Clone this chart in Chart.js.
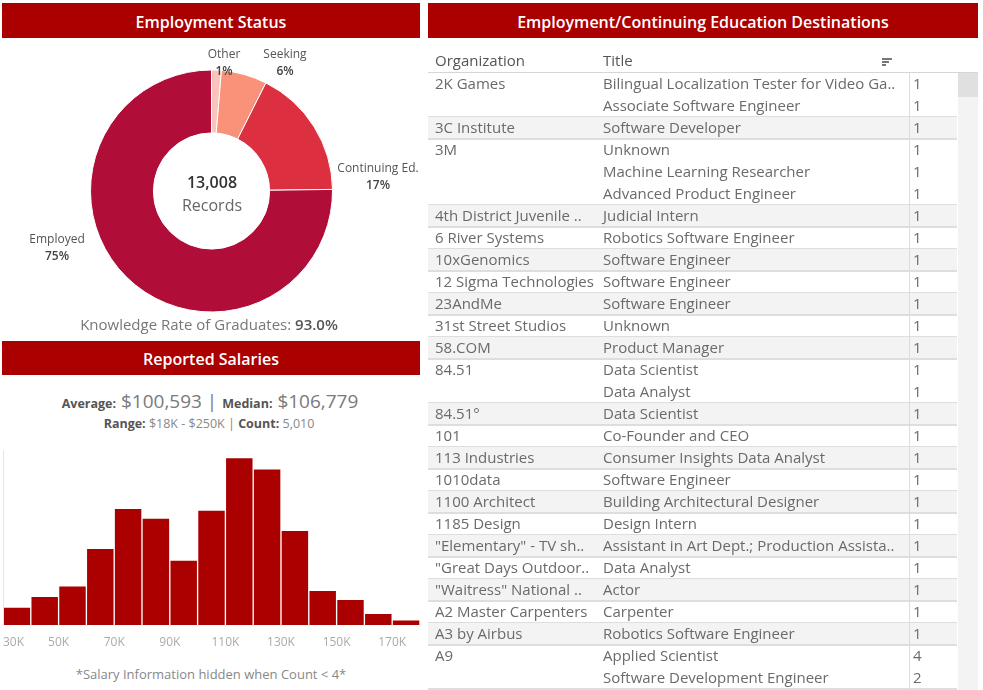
<!DOCTYPE html>
<html lang="en">
<head>
<meta charset="UTF-8">
<title>Graduate Outcomes</title>
<script src="https://cdn.jsdelivr.net/npm/chart.js"></script>
<style>
  body { margin: 0; width: 983px; height: 690px; overflow: hidden; background: #fff; font-family: "Open Sans", sans-serif; position: relative; }
  .hdr { position: absolute; background: #aa0000; color: #fff; font-size: 16px; font-weight: 600; text-align: center; line-height: 38px; height: 35px; overflow: hidden; }
  .abs { position: absolute; white-space: nowrap; }
  .lbl { position: absolute; font-size: 12px; color: #555; text-align: center; line-height: 17px; transform: translateX(-50%); white-space: nowrap; }
  .lbl b { font-weight: 600; color: #444; }
  canvas { position: absolute; }
  .cell { position: absolute; font-size: 15px; color: #6a6a6a; line-height: 20px; white-space: nowrap; }
</style>
</head>
<body>
<div class="hdr" style="left:2px; top:3px; width:418px;">Employment Status</div>
<div class="hdr" style="left:428px; top:3px; width:550px;">Employment/Continuing Education Destinations</div>
<div class="hdr" style="left:2px; top:341px; width:418px; height:34px; line-height:36px;">Reported Salaries</div>

<canvas id="statusChart" width="420" height="300" style="left:0; top:38px;"></canvas>
<div class="lbl" style="left:224px; top:45px;">Other<br><b>1%</b></div>
<div class="lbl" style="left:285px; top:45px;">Seeking<br><b>6%</b></div>
<div class="lbl" style="left:378px; top:159px;">Continuing Ed.<br><b>17%</b></div>
<div class="lbl" style="left:57px; top:230px;">Employed<br><b>75%</b></div>
<div class="abs" style="left:212px; top:171px; transform:translateX(-50%); font-size:16px; font-weight:600; color:#333;">13,008</div>
<div class="abs" style="left:212px; top:194px; transform:translateX(-50%); font-size:16px; color:#666;">Records</div>
<div class="abs" style="left:209px; top:314px; transform:translateX(-50%); font-size:15px; color:#777;">Knowledge Rate of Graduates: <span style="font-weight:600; color:#555;">93.0%</span></div>

<div class="abs" style="left:210px; top:388px; transform:translateX(-50%); color:#7a7a7a; font-size:19px;"><span style="font-size:12.5px; font-weight:700; color:#555;">Average:</span> $100,593 | <span style="font-size:12.5px; font-weight:700; color:#555;">Median:</span> $106,779</div>
<div class="abs" style="left:209px; top:415px; transform:translateX(-50%); color:#888; font-size:12.5px;"><b style="color:#555;">Range:</b> $18K - $250K | <b style="color:#555;">Count:</b> 5,010</div>
<canvas id="salaryChart" width="420" height="220" style="left:0; top:440px;"></canvas>
<div class="abs" style="left:211px; top:665px; transform:translateX(-50%); color:#888; font-size:13px;">*Salary Information hidden when Count &lt; 4*</div>

<div id="table"></div>

<script>
// employment status
const statusLabels = ['Other', 'Seeking', 'Continuing Ed.', 'Employed'];
const statusCounts = [170, 795, 2260, 9783];
const statusColors = ['#fbc3bd', '#f99279', '#dc2f3f', '#b00d38'];

// salary histogram (bin start, count)
const salaryBins = [30000, 40000, 50000, 60000, 70000, 80000, 90000, 100000, 110000, 120000, 130000, 140000, 150000, 160000, 170000];
const salaryCounts = [82, 132, 180, 353, 537, 492, 299, 529, 770, 718, 436, 160, 118, 54, 24];
const salaryTickValues = [30000, 50000, 70000, 90000, 110000, 130000, 150000, 170000];
const salaryTickLabels = ['30K', '50K', '70K', '90K', '110K', '130K', '150K', '170K'];

// destinations table
const orgs = ['2K Games', '3C Institute', '3M', '4th District Juvenile ..', '6 River Systems', '10xGenomics',
  '12 Sigma Technologies', '23AndMe', '31st Street Studios', '58.COM', '84.51', '84.51\u00b0', '101',
  '113 Industries', '1010data', '1100 Architect', '1185 Design', '"Elementary" - TV sh..',
  '"Great Days Outdoor..', '"Waitress" National ..', 'A2 Master Carpenters', 'A3 by Airbus', 'A9'];
const titles = [
  ['Bilingual Localization Tester for Video Ga..', 'Associate Software Engineer'],
  ['Software Developer'],
  ['Unknown', 'Machine Learning Researcher', 'Advanced Product Engineer'],
  ['Judicial Intern'],
  ['Robotics Software Engineer'],
  ['Software Engineer'],
  ['Software Engineer'],
  ['Software Engineer'],
  ['Unknown'],
  ['Product Manager'],
  ['Data Scientist', 'Data Analyst'],
  ['Data Scientist'],
  ['Co-Founder and CEO'],
  ['Consumer Insights Data Analyst'],
  ['Software Engineer'],
  ['Building Architectural Designer'],
  ['Design Intern'],
  ['Assistant in Art Dept.; Production Assista..'],
  ['Data Analyst'],
  ['Actor'],
  ['Carpenter'],
  ['Robotics Software Engineer'],
  ['Applied Scientist', 'Software Development Engineer']
];
const titleCounts = [[1, 1], [1], [1, 1, 1], [1], [1], [1], [1], [1], [1], [1], [1, 1], [1], [1], [1], [1], [1], [1], [1], [1], [1], [1], [1], [4, 2]];

new Chart(document.getElementById('statusChart'), {
  type: 'doughnut',
  data: {
    labels: statusLabels,
    datasets: [{ data: statusCounts, backgroundColor: statusColors, borderColor: '#fff', borderWidth: 1 }]
  },
  options: {
    responsive: false,
    animation: false,
    cutout: '48%',
    layout: { padding: { top: 31, bottom: 25, left: 90, right: 87 } },
    plugins: { legend: { display: false }, tooltip: { enabled: false } }
  }
});

const xLabels = {
  id: 'xLabels',
  afterDraw(chart) {
    const ctx = chart.ctx, x = chart.scales.x, a = chart.chartArea;
    ctx.save();
    ctx.strokeStyle = '#e6e6e6';
    ctx.lineWidth = 1;
    ctx.beginPath();
    ctx.moveTo(a.left + 0.5, a.top);
    ctx.lineTo(a.left + 0.5, a.bottom);
    ctx.stroke();
    ctx.font = '12px "Open Sans"';
    ctx.fillStyle = '#aaa';
    ctx.textBaseline = 'middle';
    salaryTickValues.forEach((v, i) => {
      const w = ctx.measureText(salaryTickLabels[i]).width;
      let left = x.getPixelForValue(v) - w / 2;
      if (left < a.left) left = a.left;
      ctx.fillText(salaryTickLabels[i], left, a.bottom + 18);
    });
    ctx.restore();
  }
};

new Chart(document.getElementById('salaryChart'), {
  type: 'bar',
  data: {
    datasets: [{
      data: salaryBins.map((b, i) => ({ x: b + 5000, y: salaryCounts[i] })),
      backgroundColor: '#aa0000',
      borderColor: 'rgba(255,255,255,0.45)',
      borderWidth: 1,
      borderSkipped: 'bottom',
      barPercentage: 1,
      categoryPercentage: 1
    }]
  },
  options: {
    responsive: false,
    animation: false,
    layout: { padding: { top: 10, bottom: 35, left: 3, right: 0 } },
    scales: {
      x: { type: 'linear', min: 30000, max: 180000, offset: false, display: false },
      y: { min: 0, max: 805, display: false }
    },
    plugins: { legend: { display: false }, tooltip: { enabled: false } }
  },
  plugins: [xLabels]
});

// table
const tbl = document.getElementById('table');
function add(style, text, cls) {
  const d = document.createElement('div');
  d.className = cls || 'abs';
  d.style.cssText = style;
  if (text !== undefined) d.textContent = text;
  tbl.appendChild(d);
}
add('left:435px; top:50px; font-size:15px; color:#555;', 'Organization');
add('left:603px; top:50px; font-size:15px; color:#555;', 'Title');
add('left:882px; top:58px; width:10px; height:2px; background:#777;');
add('left:882px; top:61px; width:7px; height:2px; background:#777;');
add('left:882px; top:64px; width:4px; height:2px; background:#777;');
add('left:428px; top:72px; width:550px; height:1px; background:#d6d6d6;');
add('left:958px; top:73px; width:20px; height:617px; background:#f3f3f3;');
add('left:958px; top:73px; width:20px; height:24px; background:#e0e0e0;');
let row = 0;
orgs.forEach((org, g) => {
  const n = titles[g].length;
  const top = 73 + row * 22;
  if (g % 2 === 1) add('left:428px; top:' + top + 'px; width:529px; height:' + (n * 22) + 'px; background:#f3f3f3;');
  add('left:435px; top:' + top + 'px;', org, 'cell');
  titles[g].forEach((t, k) => {
    add('left:603px; top:' + (top + k * 22) + 'px;', t, 'cell');
    add('left:913px; top:' + (top + k * 22) + 'px;', String(titleCounts[g][k]), 'cell');
  });
  row += n;
  add('left:428px; top:' + (73 + row * 22 - 1) + 'px; width:529px; height:2px; background:#dedede;');
});
add('left:909px; top:73px; width:1px; height:617px; background:#dcdcdc;');
</script>
</body>
</html>
